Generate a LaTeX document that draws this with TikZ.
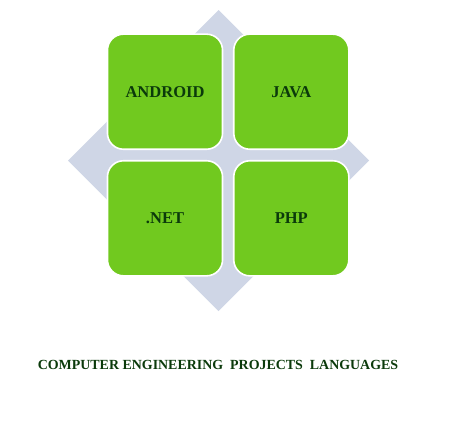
\documentclass[tikz,border=0pt]{standalone}
\usepackage{fontspec}
\setmainfont{Liberation Serif}
\definecolor{tilegreen}{HTML}{71C91F}
\definecolor{backblue}{HTML}{CFD6E6}
\definecolor{labelgreen}{HTML}{0B3A0B}
\tikzset{
  tile/.style={draw=white, line width=1.2pt, fill=tilegreen, rounded corners=12pt,
    minimum width=86.3pt, minimum height=86.3pt, inner sep=0pt,
    font=\fontsize{12.4}{14}\selectfont\bfseries, text=labelgreen},
}
\begin{document}
\begin{tikzpicture}[x=0.75pt,y=-0.75pt]
\useasboundingbox (0,0) rectangle (453,421);
\coordinate (D0) at (218.5,10);
\coordinate (D1) at (369,160.5);
\coordinate (D2) at (218.5,311);
\coordinate (D3) at (68,160.5);
\fill [backblue] (D0) -- (D1) -- (D2) -- (D3) -- cycle;
\node [tile] (android) at (165,91.7) {ANDROID};
\node [tile] (java) at (291.3,91.7) {JAVA};
\node [tile] (dotnet) at (165,218.3) {.NET};
\node [tile] (php) at (291.3,218.3) {PHP};
\node [font=\fontsize{10.45}{12}\selectfont\bfseries, text=labelgreen] (title) at (218,365)
  {COMPUTER ENGINEERING\ \ PROJECTS\ \ LANGUAGES};
\end{tikzpicture}
\end{document}
